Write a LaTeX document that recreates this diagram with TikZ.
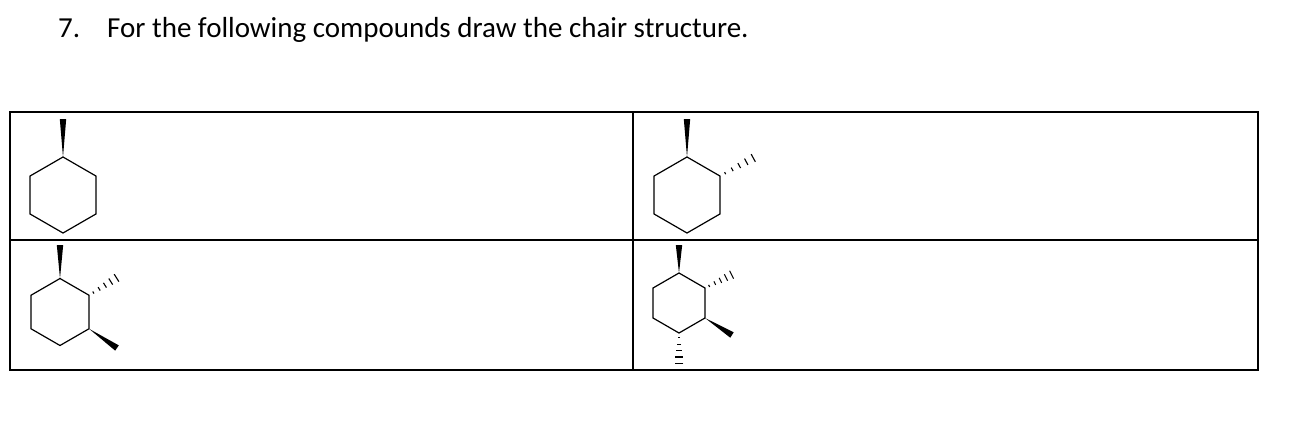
\documentclass[tikz,border=0pt]{standalone}
\usepackage{fontspec}
\setmainfont{Carlito}
\usetikzlibrary{calc}
\tikzset{
  ring/.style={line width=1.2pt, line join=miter},
  tbl/.style={line width=2pt},
  hash/.style={line width=1.1pt},
  ttl/.style={anchor=base west,font=\fontsize{29}{34}\selectfont,inner sep=0},
}
\newcommand{\mring}[4]{% name, cx, cy, r
  \foreach \i/\a in {1/90,2/30,3/-30,4/-90,5/-150,6/150}
    \coordinate (#1\i) at ($(#2,#3)+(\a:#4 and -#4)$);
  \draw[ring] (#11)--(#12)--(#13)--(#14)--(#15)--(#16)--cycle;}
\newcommand{\wedgeb}[2]{\fill (#1) -- ($(#2)!3.2pt!90:(#1)$) -- ($(#2)!3.2pt!-90:(#1)$) -- cycle;}
\newcommand{\hashb}[2]{\foreach \t/\w in {0.15/1.2pt,0.35/2pt,0.55/2.8pt,0.75/3.6pt,0.95/4.4pt}
  \draw[hash] ($(#1)!\t!(#2)!\w!90:(#2)$) -- ($(#1)!\t!(#2)!-\w!90:(#2)$);}
\begin{document}
\begin{tikzpicture}[x=1pt,y=-1pt]
\useasboundingbox (0,0) rectangle (1302,432);
\node[ttl] (n7) at (58,37) {7.};
\node[ttl] (title) at (107,37) {For the following compounds draw the chair structure.};
\draw[tbl] (10,112) rectangle (1258,370);
\draw[tbl] (633,112) -- (633,370);
\draw[tbl] (10,240) -- (1258,240);
% molecule 1
\mring{a}{63}{195}{38}
\coordinate (aw) at (63,119);
\wedgeb{a1}{aw}
% molecule 2
\mring{b}{60}{312}{33.5}
\coordinate (bw) at (60,245);
\coordinate (bh) at (118,277);
\coordinate (bw2) at (117,348);
\wedgeb{b1}{bw}
\hashb{b2}{bh}
\wedgeb{b3}{bw2}
% molecule 3
\mring{c}{687}{195}{38}
\coordinate (cw) at (687,119);
\coordinate (ch) at (755,157);
\wedgeb{c1}{cw}
\hashb{c2}{ch}
% molecule 4
\mring{d}{679}{303}{30}
\coordinate (dw) at (679,245);
\coordinate (dh) at (733,274);
\coordinate (dw2) at (732,335);
\coordinate (dh2) at (679,365);
\wedgeb{d1}{dw}
\hashb{d2}{dh}
\wedgeb{d3}{dw2}
\hashb{d4}{dh2}
\end{tikzpicture}
\end{document}
